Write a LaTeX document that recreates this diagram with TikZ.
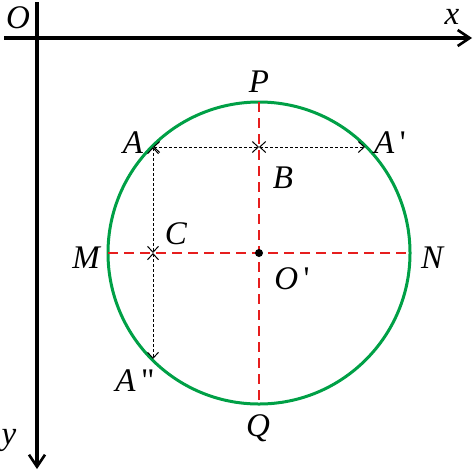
\documentclass[tikz,border=0pt]{standalone}
\usepackage{fontspec}
\setmainfont{Liberation Serif}
\usepackage{tikz}
\usetikzlibrary{arrows.meta,positioning}

\definecolor{circgreen}{RGB}{0,160,70}
\definecolor{axisred}{RGB}{230,30,30}

\begin{document}
\begin{tikzpicture}[
    x=0.5pt, y=-0.5pt,
    axis/.style={line width=2pt, -{Straight Barb[length=6pt,width=8pt,line width=1.3pt]}},
    ring/.style={draw=circgreen, line width=1.5pt},
    midline/.style={draw=axisred, line width=1.2pt, dash pattern=on 5pt off 3pt},
    dim/.style={dash pattern=on 1.5pt off 1pt, line width=0.5pt, {Straight Barb[length=3pt,width=5.5pt,line width=0.5pt]}-{Straight Barb[length=3pt,width=5.5pt,line width=0.5pt]}},
    lbl/.style={font=\fontsize{16.5}{19}\selectfont\itshape, inner sep=0pt}
]
    \useasboundingbox (0,0) rectangle (474,471);

    % axes
    \coordinate (orig) at (37,38);
    \coordinate (xend) at (472,38);
    \coordinate (yend) at (37,469);
    \draw[axis] (4,38) -- (xend);
    \draw[axis] (37,2) -- (yend);
    \node[lbl] (lO) at (18,18) {O};
    \node[lbl] (lx) at (452,17) {x};
    \node[lbl] (ly) at (9,440) {y};

    % circle and its diameters
    \coordinate (Op) at (259,253);
    \coordinate (M) at (108,253);
    \coordinate (N) at (410,253);
    \coordinate (P) at (259,102);
    \coordinate (Q) at (259,404);
    \draw[ring] (Op) circle[radius=151];
    \draw[midline] (M) -- (N);
    \draw[midline] (P) -- (Q);
    \fill (Op) circle[radius=4];

    % points
    \coordinate (A) at (153,147);
    \coordinate (A1) at (365,147);
    \coordinate (A2) at (153,359);
    \coordinate (B) at (259,147);
    \coordinate (C) at (153,253);

    \draw[dim] (A) -- (B);
    \draw[dim] (B) -- (A1);
    \draw[dim] (A) -- (C);
    \draw[dim] (C) -- (A2);

    % labels
    \node[lbl] (lP) at (259,82) {P};
    \node[lbl] (lQ) at (258,428) {Q};
    \node[lbl] (lM) at (86,258) {M};
    \node[lbl] (lN) at (432,258) {N};
    \node[lbl] (lA) at (133,143) {A};
    \node[lbl] (lA1) at (390,143) {A\,\textup{\textquotesingle}};
    \node[lbl] (lB) at (283,178) {B};
    \node[lbl] (lC) at (176,234) {C};
    \node[lbl] (lOp) at (292,279) {O\,\textup{\textquotesingle}};
    \node[lbl] (lA2) at (135,381) {A\,\textup{\textquotedbl}};
\end{tikzpicture}
\end{document}
